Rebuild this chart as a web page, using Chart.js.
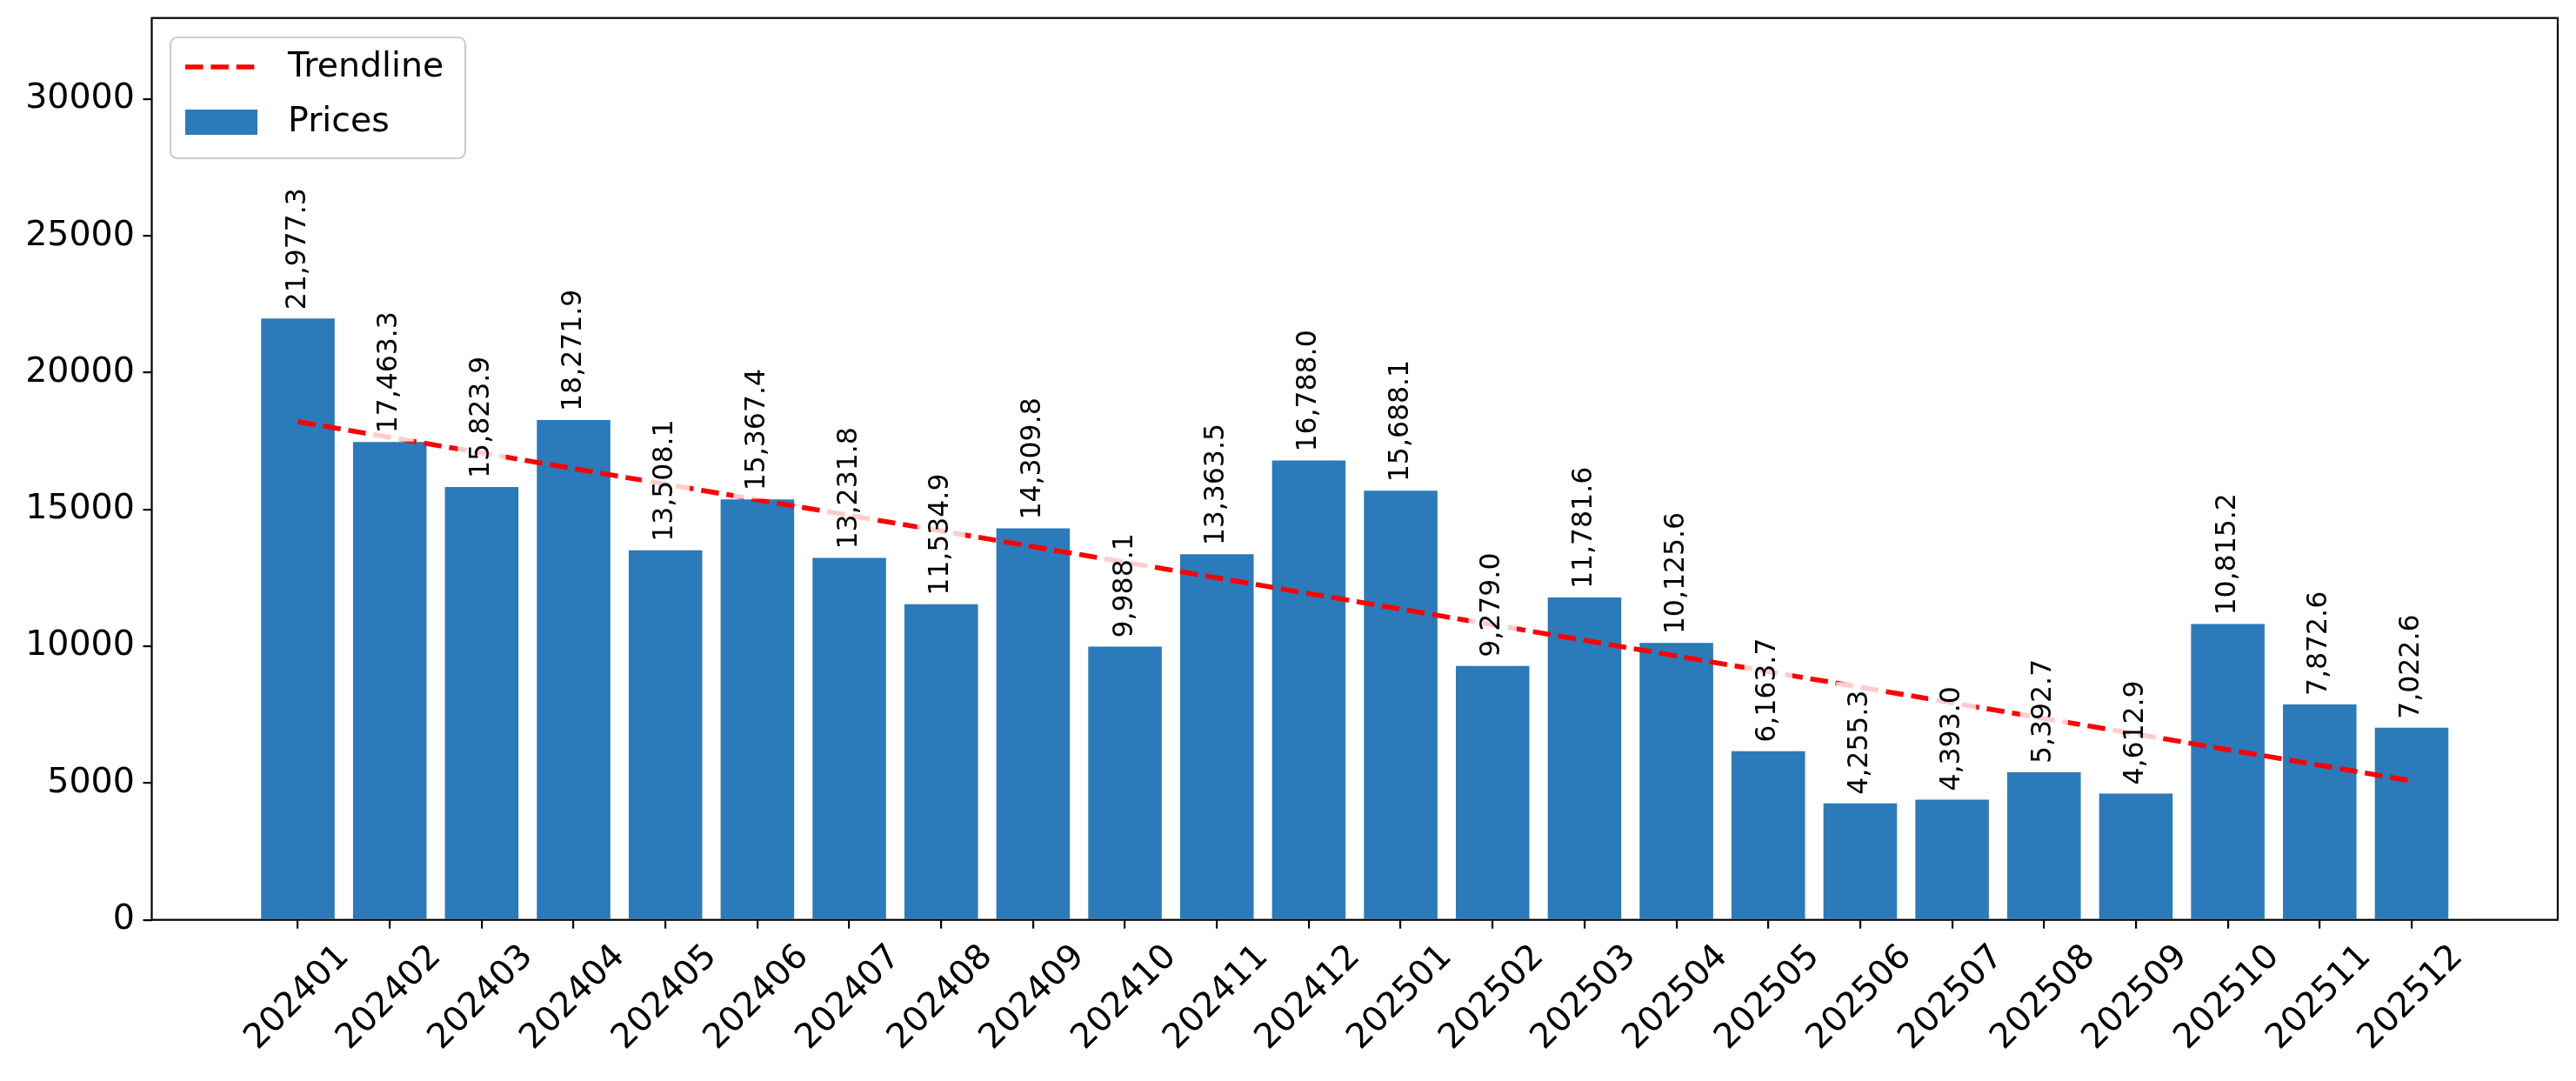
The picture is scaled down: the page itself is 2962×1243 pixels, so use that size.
<!DOCTYPE html>
<html>
<head>
<meta charset="utf-8">
<script src="https://cdn.jsdelivr.net/npm/chart.js@4.4.1/dist/chart.umd.min.js"></script>
<style>
    html, body { margin: 0; padding: 0; background: #fff; }
    #wrap { width: 2962px; height: 1243px; }
</style>
</head>
<body>
<div id="wrap"><canvas id="graph" width="2962" height="1243"></canvas></div>
<script>
const months = ["202401", "202402", "202403", "202404", "202405", "202406",
                "202407", "202408", "202409", "202410", "202411", "202412",
                "202501", "202502", "202503", "202504", "202505", "202506",
                "202507", "202508", "202509", "202510", "202511", "202512"];
const prices = [21977.3, 17463.3, 15823.9, 18271.9, 13508.1, 15367.4,
                13231.8, 11534.9, 14309.8, 9988.1, 13363.5, 16788.0,
                15688.1, 9279.0, 11781.6, 10125.6, 6163.7, 4255.3,
                4393.0, 5392.7, 4612.9, 10815.2, 7872.6, 7022.6];
// trendline value at the first and last month
const trendStart = 18210;
const trendEnd = 5080;
const yTicks = [0, 5000, 10000, 15000, 20000, 25000, 30000];
const yMax = 32966;

const FONT = "'DejaVu Sans', 'Liberation Sans', sans-serif";

let barPoints = months.map((m, i) => ({x: i, y: prices[i]}));
let trendPoints = [{x: 0, y: trendStart}, {x: months.length - 1, y: trendEnd}];

function fmt(v){
    return v.toLocaleString("en-US", {minimumFractionDigits: 1, maximumFractionDigits: 1});
}

// black box round the plot area
const frame = {
    id: "frame",
    afterDatasetsDraw(chart){
        const a = chart.chartArea;
        const ctx = chart.ctx;
        ctx.save();
        ctx.strokeStyle = "#000";
        ctx.lineWidth = 2.2;
        ctx.strokeRect(a.left, a.top, a.right - a.left, a.bottom - a.top);
        ctx.restore();
    }
};

// rotated value labels with a see-through white box
const barLabels = {
    id: "barLabels",
    afterDatasetsDraw(chart){
        const ctx = chart.ctx;
        const meta = chart.getDatasetMeta(1);
        const fs = 31.5;
        const pad = 9.3;
        const h = fs * 1.164;
        ctx.save();
        ctx.font = fs + "px " + FONT;
        meta.data.forEach((bar, i) => {
            let txt = fmt(prices[i]);
            let w = ctx.measureText(txt).width;
            ctx.save();
            ctx.translate(bar.x, bar.y - 10);
            ctx.rotate(-Math.PI / 2);
            ctx.fillStyle = "rgba(255,255,255,0.8)";
            ctx.fillRect(-pad, -h / 2 - pad, w + 2 * pad, h + 2 * pad);
            ctx.fillStyle = "#000";
            ctx.textAlign = "left";
            ctx.textBaseline = "middle";
            ctx.fillText(txt, 0, 0);
            ctx.restore();
        });
        ctx.restore();
    }
};

// legend inside the top left corner of the plot
const legendBox = {
    id: "legendBox",
    afterDraw(chart){
        const ctx = chart.ctx;
        const sets = chart.data.datasets;
        const x = 196, y = 43, w = 339, h = 139, r = 8;
        ctx.save();
        ctx.beginPath();
        ctx.roundRect(x, y, w, h, r);
        ctx.fillStyle = "rgba(255,255,255,0.8)";
        ctx.fill();
        ctx.strokeStyle = "#cccccc";
        ctx.lineWidth = 2.2;
        ctx.stroke();

        ctx.beginPath();
        ctx.setLineDash([20.5, 8.9]);
        ctx.strokeStyle = sets[0].borderColor;
        ctx.lineWidth = 5.6;
        ctx.moveTo(213, 77);
        ctx.lineTo(296, 77);
        ctx.stroke();
        ctx.setLineDash([]);

        ctx.fillStyle = sets[1].backgroundColor;
        ctx.fillRect(213, 126, 83, 29);

        ctx.fillStyle = "#000";
        ctx.font = "39.5px " + FONT;
        ctx.textAlign = "left";
        ctx.textBaseline = "middle";
        ctx.fillText(sets[0].label, 331, 78);
        ctx.fillText(sets[1].label, 331, 141);
        ctx.restore();
    }
};

const config = {
    type: "bar",
    data: {
        datasets: [
            {
                type: "line",
                label: "Trendline",
                data: trendPoints,
                borderColor: "#ff0000",
                borderWidth: 5.6,
                borderDash: [20.5, 8.9],
                pointRadius: 0,
                fill: false,
                tension: 0,
                order: 0
            },
            {
                type: "bar",
                label: "Prices",
                data: barPoints,
                backgroundColor: "#2b7ab9",
                categoryPercentage: 1,
                barPercentage: 0.8,
                order: 1
            }
        ]
    },
    options: {
        responsive: false,
        animation: false,
        devicePixelRatio: 1,
        layout: {padding: {left: 0, top: 20.7, right: 21, bottom: 0}},
        plugins: {
            legend: {display: false},
            tooltip: {enabled: false}
        },
        scales: {
            x: {
                type: "linear",
                min: -1.59,
                max: 24.59,
                offset: false,
                grid: {offset: false, drawOnChartArea: false, drawTicks: true, tickLength: 10,
                       color: "#000", tickColor: "#000", lineWidth: 2.2, tickWidth: 2.2},
                border: {display: false},
                ticks: {
                    autoSkip: false,
                    minRotation: 45,
                    maxRotation: 45,
                    padding: 9.7,
                    labelOffset: 53,
                    color: "#000",
                    font: {family: FONT, size: 39.5},
                    callback: v => months[v]
                },
                afterBuildTicks: s => { s.ticks = months.map((m, i) => ({value: i})); },
                afterFit: s => { s.height = 185.3; s.paddingLeft = 0; s.paddingRight = 0; }
            },
            y: {
                type: "linear",
                min: 0,
                max: yMax,
                grid: {drawOnChartArea: false, drawTicks: true, tickLength: 10,
                       color: "#000", tickColor: "#000", lineWidth: 2.2, tickWidth: 2.2},
                border: {display: false},
                ticks: {
                    padding: 9.7,
                    color: "#000",
                    font: {family: FONT, size: 39.5},
                    callback: v => String(v)
                },
                afterBuildTicks: s => { s.ticks = yTicks.map(v => ({value: v})); },
                afterFit: s => { s.width = 174.5; s.paddingTop = 0; s.paddingBottom = 0; }
            }
        }
    },
    plugins: [frame, barLabels, legendBox]
};

let myChart = new Chart(document.getElementById("graph"), config);
</script>
</body>
</html>
